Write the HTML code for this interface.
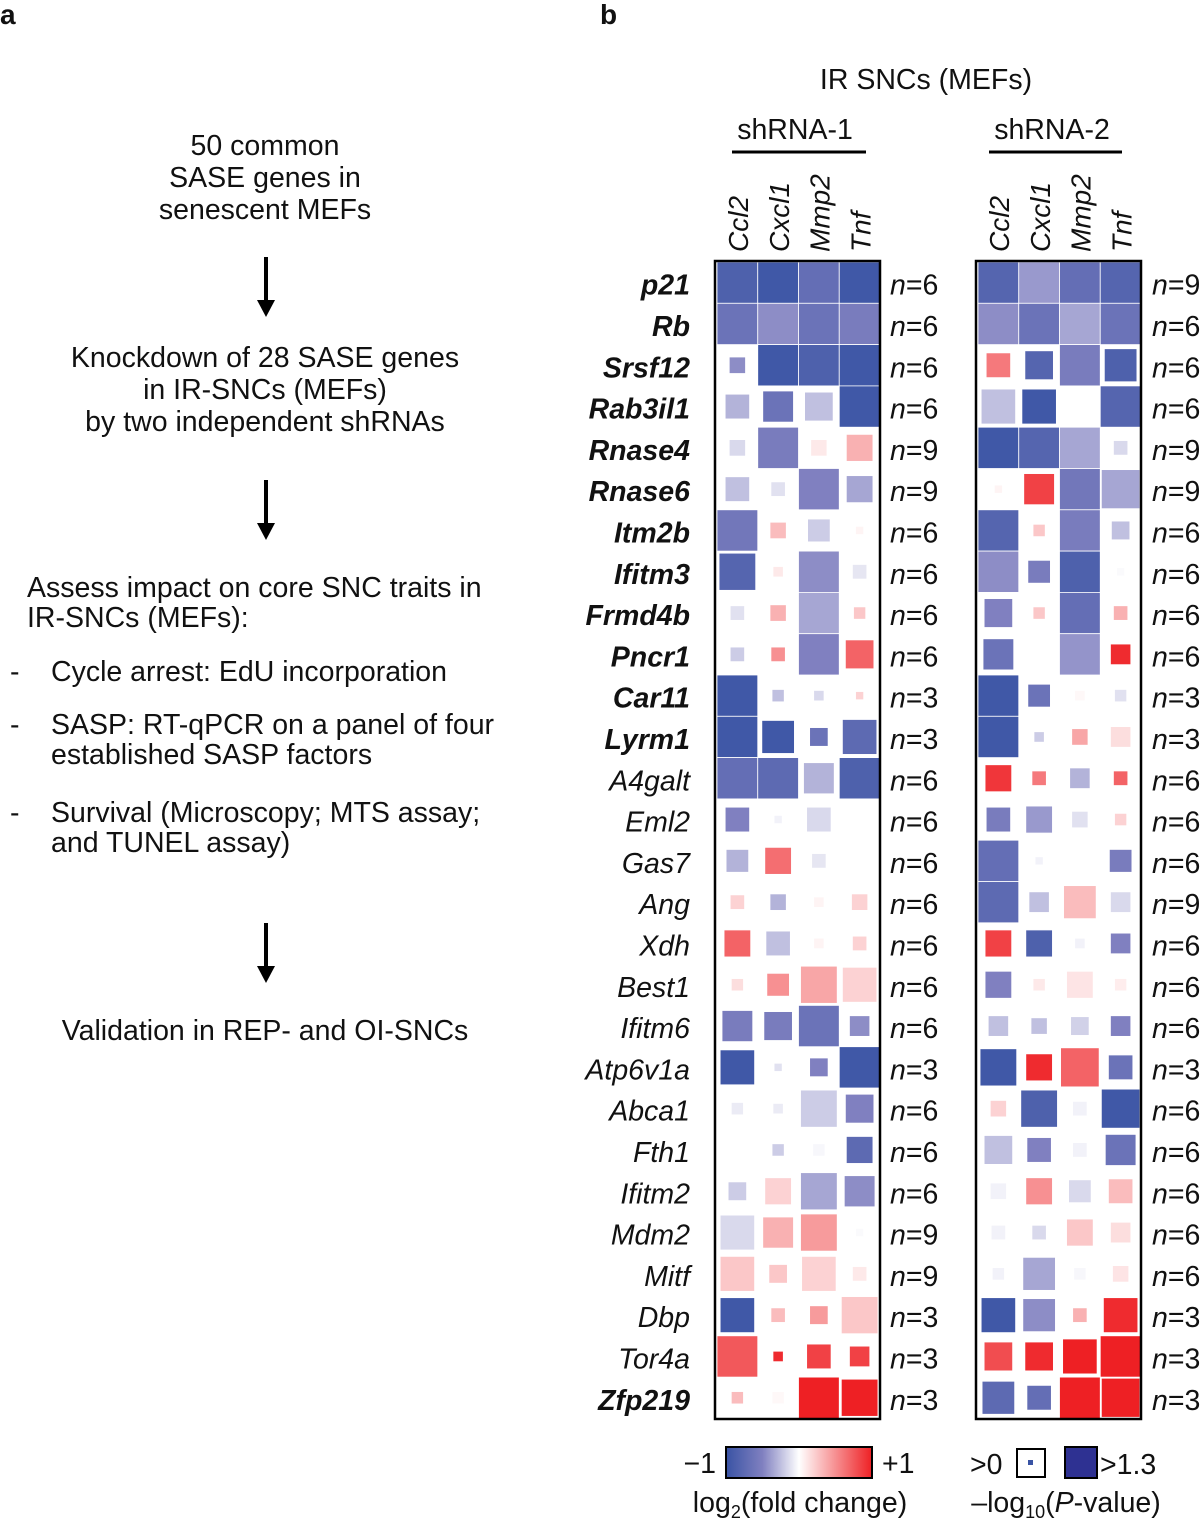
<!DOCTYPE html>
<html><head><meta charset="utf-8"><style>
body{margin:0;background:#fff}
svg text{font-family:"Liberation Sans",sans-serif;fill:#111}
</style></head><body>
<svg id="fig" width="1200" height="1519" viewBox="0 0 1200 1519" xmlns="http://www.w3.org/2000/svg">
<defs>
<linearGradient id="cb" x1="0" x2="1"><stop offset="0" stop-color="#3953a4"/><stop offset="0.25" stop-color="#8080c0"/><stop offset="0.5" stop-color="#fff"/><stop offset="1" stop-color="#ee2024"/></linearGradient>
</defs>
<g font-size="28.5">
<text x="0" y="24" font-weight="bold" font-size="28">a</text>
<text x="265" y="155" text-anchor="middle"><tspan x="265">50 common</tspan><tspan x="265" dy="32">SASE genes in</tspan><tspan x="265" dy="32">senescent MEFs</tspan></text>
<g><line x1="266" y1="257" x2="266" y2="302" stroke="#000" stroke-width="4"/><path d="M257,300 L275,300 L266,317 z"/></g>
<text x="265" y="367" text-anchor="middle"><tspan x="265">Knockdown of 28 SASE genes</tspan><tspan x="265" dy="32">in IR-SNCs (MEFs)</tspan><tspan x="265" dy="32">by two independent shRNAs</tspan></text>
<g><line x1="266" y1="480" x2="266" y2="525" stroke="#000" stroke-width="4"/><path d="M257,523 L275,523 L266,540 z"/></g>
<text x="27" y="597"><tspan x="27">Assess impact on core SNC traits in</tspan><tspan x="27" dy="30">IR-SNCs (MEFs):</tspan></text>
<text x="10" y="681">-<tspan x="51">Cycle arrest: EdU incorporation</tspan></text>
<text x="10" y="734">-<tspan x="51">SASP: RT-qPCR on a panel of four</tspan><tspan x="51" dy="30">established SASP factors</tspan></text>
<text x="10" y="822">-<tspan x="51">Survival (Microscopy; MTS assay;</tspan><tspan x="51" dy="30">and TUNEL assay)</tspan></text>
<g><line x1="266" y1="923" x2="266" y2="968" stroke="#000" stroke-width="4"/><path d="M257,966 L275,966 L266,983 z"/></g>
<text x="265" y="1040" text-anchor="middle">Validation in REP- and OI-SNCs</text>
</g>
<g id="pb" font-size="28.5">
<text x="600" y="24" font-weight="bold" font-size="28">b</text>
<text x="926" y="89" text-anchor="middle">IR SNCs (MEFs)</text>
<text x="795" y="139" text-anchor="middle">shRNA-1</text>
<line x1="732" y1="152" x2="866" y2="152" stroke="#000" stroke-width="3"/>
<text x="1052" y="139" text-anchor="middle">shRNA-2</text>
<line x1="989" y1="152" x2="1122" y2="152" stroke="#000" stroke-width="3"/>
<g id="cells"></g>
<g>
<rect x="726" y="1447" width="146" height="31" fill="url(#cb)" stroke="#000" stroke-width="2"/>
<text x="716" y="1473" text-anchor="end">−1</text>
<text x="882" y="1473">+1</text>
<text x="800" y="1512" text-anchor="middle">log<tspan font-size="18" dy="6">2</tspan><tspan dy="-6">(fold change)</tspan></text>
</g>
<g>
<text x="970" y="1474">&gt;0</text>
<rect x="1017" y="1449" width="28" height="28" fill="#fff" stroke="#000" stroke-width="2"/>
<rect x="1028" y="1460" width="5" height="5" fill="#3953a4"/>
<rect x="1065" y="1447" width="32" height="31" fill="#2e3192" stroke="#000" stroke-width="2"/>
<text x="1100" y="1474">&gt;1.3</text>
<text x="1066" y="1512" text-anchor="middle">–log<tspan font-size="18" dy="6">10</tspan><tspan dy="-6">(</tspan><tspan font-style="italic">P</tspan>-value)</text>
</g>
</g>
</svg>
<script>
const genes=["p21","Rb","Srsf12","Rab3il1","Rnase4","Rnase6","Itm2b","Ifitm3","Frmd4b","Pncr1","Car11","Lyrm1","A4galt","Eml2","Gas7","Ang","Xdh","Best1","Ifitm6","Atp6v1a","Abca1","Fth1","Ifitm2","Mdm2","Mitf","Dbp","Tor4a","Zfp219"];
const boldGenes=["p21","Rb","Srsf12","Rab3il1","Rnase4","Rnase6","Itm2b","Ifitm3","Frmd4b","Pncr1","Car11","Lyrm1","Zfp219"];
const factors=["Ccl2","Cxcl1","Mmp2","Tnf"];
const n1=[6,6,6,6,9,9,6,6,6,6,3,3,6,6,6,6,6,6,6,3,6,6,6,9,9,3,3,3];
const n2=[9,6,6,6,9,9,6,6,6,6,3,3,6,6,6,9,6,6,6,3,6,6,6,6,6,3,3,3];
const fc1=[[-0.85,-0.95,-0.7,-0.95],[-0.65,-0.45,-0.65,-0.55],[-0.45,-0.95,-0.85,-0.95],[-0.3,-0.65,-0.25,-0.95],[-0.15,-0.55,0.1,0.35],[-0.25,-0.12,-0.5,-0.35],[-0.6,0.3,-0.2,0.05],[-0.8,0.1,-0.45,-0.1],[-0.12,0.35,-0.35,0.25],[-0.2,0.5,-0.5,0.7],[-0.95,-0.25,-0.15,0.2],[-0.95,-0.95,-0.65,-0.75],[-0.7,-0.75,-0.3,-0.85],[-0.5,-0.05,-0.15,0],[-0.3,0.65,-0.1,0],[0.2,-0.3,0.05,0.2],[0.7,-0.25,0.05,0.2],[0.15,0.5,0.4,0.2],[-0.55,-0.55,-0.65,-0.45],[-0.95,-0.12,-0.5,-0.95],[-0.08,-0.08,-0.2,-0.5],[0,-0.2,-0.03,-0.75],[-0.2,0.2,-0.35,-0.45],[-0.15,0.35,0.45,-0.02],[0.25,0.25,0.2,0.1],[-0.95,0.3,0.45,0.25],[0.75,0.95,0.85,0.85],[0.3,0.03,1,1]];
const pv1=[[1.3,1.3,1.3,1.3],[1.3,1.3,1.3,1.3],[0.52,1.3,1.3,1.3],[0.78,0.98,0.91,1.3],[0.52,1.3,0.52,0.85],[0.78,0.46,1.3,0.85],[1.3,0.52,0.72,0.26],[1.17,0.33,1.3,0.46],[0.46,0.52,1.3,0.39],[0.46,0.46,1.3,0.91],[1.3,0.39,0.33,0.26],[1.3,1.04,0.59,1.1],[1.3,1.3,0.98,1.3],[0.78,0.26,0.78,0],[0.72,0.85,0.46,0],[0.46,0.52,0.33,0.52],[0.85,0.78,0.33,0.46],[0.39,0.72,1.17,1.1],[0.98,0.91,1.3,0.65],[1.1,0.26,0.59,1.3],[0.39,0.33,1.17,0.91],[0.26,0.39,0.39,0.85],[0.59,0.85,1.17,0.98],[1.1,0.98,1.17,0.26],[1.1,0.59,1.1,0.46],[1.1,0.46,0.59,1.17],[1.3,0.33,0.78,0.65],[0.39,0.39,1.3,1.17]];
const fc2=[[-0.8,-0.4,-0.7,-0.8],[-0.45,-0.65,-0.35,-0.65],[0.6,-0.8,-0.55,-0.85],[-0.25,-0.95,0,-0.8],[-0.95,-0.8,-0.35,-0.15],[0.05,0.85,-0.6,-0.35],[-0.8,0.25,-0.55,-0.25],[-0.45,-0.55,-0.85,-0.02],[-0.5,0.25,-0.7,0.35],[-0.65,0,-0.42,0.95],[-0.95,-0.65,0.03,-0.12],[-0.95,-0.2,0.4,0.15],[0.9,0.6,-0.3,0.7],[-0.55,-0.4,-0.12,0.2],[-0.7,-0.05,0,-0.55],[-0.75,-0.25,0.3,-0.15],[0.85,-0.85,-0.05,-0.5],[-0.5,0.1,0.12,0.08],[-0.25,-0.25,-0.18,-0.5],[-0.95,0.95,0.7,-0.65],[0.2,-0.85,-0.05,-0.95],[-0.25,-0.5,-0.05,-0.65],[-0.05,0.5,-0.15,0.3],[-0.05,-0.15,0.25,0.15],[-0.05,-0.35,-0.03,0.12],[-0.95,-0.45,0.35,0.95],[0.8,0.95,1,1],[-0.75,-0.7,1,1]];
const pv2=[[1.3,1.3,1.3,1.3],[1.3,1.3,1.3,1.3],[0.78,0.91,1.3,1.04],[1.1,1.1,0,1.3],[1.3,1.3,1.3,0.46],[0.26,0.98,1.3,1.23],[1.3,0.39,1.3,0.59],[1.3,0.72,1.3,0.26],[0.91,0.39,1.3,0.46],[0.98,0,1.3,0.65],[1.3,0.72,0.33,0.39],[1.3,0.33,0.52,0.65],[0.85,0.46,0.65,0.46],[0.78,0.85,0.52,0.39],[1.3,0.26,0,0.72],[1.3,0.65,1.04,0.65],[0.85,0.85,0.33,0.65],[0.85,0.39,0.85,0.39],[0.65,0.52,0.59,0.65],[1.17,0.85,1.23,0.78],[0.52,1.17,0.46,1.23],[0.91,0.78,0.46,0.98],[0.52,0.85,0.72,0.78],[0.46,0.46,0.85,0.65],[0.39,1.04,0.39,0.52],[1.1,1.04,0.46,1.1],[0.91,0.91,1.1,1.3],[1.04,0.78,1.3,1.23]];
const NS='http://www.w3.org/2000/svg';
const g=document.getElementById('cells');
const y0=262,rowH=41.3,colW=40.75,pmax=1.3;
function yScale(i){return y0+i*rowH;}
function lerp(a,b,t){return a.map((k,j)=>Math.round(k+(b[j]-k)*t));}
function colorScale(v){
  const t=Math.min(1,Math.abs(v));
  let c;
  if(v<0){c=t<0.5?lerp([255,255,255],[128,128,192],t/0.5):lerp([128,128,192],[57,83,164],(t-0.5)/0.5);}
  else{c=lerp([255,255,255],[238,32,36],t);}
  return 'rgb('+c.join(',')+')';
}
function sizeScale(p){return Math.min(1,p/pmax);}
function mk(tag,attrs,txt){const e=document.createElementNS(NS,tag);for(const k in attrs)e.setAttribute(k,attrs[k]);if(txt!==undefined)e.textContent=txt;return e;}
const panels=[{x0:717,fc:fc1,pv:pv1,n:n1,nx:890,bx:715,id:'1'},{x0:978,fc:fc2,pv:pv2,n:n2,nx:1152,bx:976,id:'2'}];
panels.forEach(P=>{
  factors.forEach((f,c)=>{
    const t=mk('text',{transform:'translate('+(P.x0+c*colW+31)+',252) rotate(-90)','font-style':'italic','font-size':'28'},f);
    
    
    g.appendChild(t);
  });
  genes.forEach((gn,i)=>{
    factors.forEach((f,c)=>{
      const s=sizeScale(P.pv[i][c]);if(s<=0)return;
      const w=colW*s,h=rowH*s;
      const r=mk('rect',{x:P.x0+c*colW+(colW-w)/2,y:yScale(i)+(rowH-h)/2,width:w,height:h,fill:colorScale(P.fc[i][c]),stroke:'#fff','stroke-width':'0.8'});
      
      
      g.appendChild(r);
    });
    const nt=mk('text',{x:P.nx,y:yScale(i)+rowH/2+12,'font-size':'28.5'});
    nt.innerHTML='<tspan font-style="italic">n</tspan>='+P.n[i];
    
    
    g.appendChild(nt);
  });
  const b=mk('rect',{x:P.bx,y:261,width:165,height:1158,fill:'none',stroke:'#000','stroke-width':'2.5'});
  
  
  g.appendChild(b);
});
genes.forEach((gn,i)=>{
  const t=mk('text',{x:690,y:yScale(i)+rowH/2+12,'text-anchor':'end','font-style':'italic','font-size':'28.5','font-weight':boldGenes.includes(gn)?'bold':'normal'},gn);
  
  
  g.appendChild(t);
});
</script>
</body></html>
